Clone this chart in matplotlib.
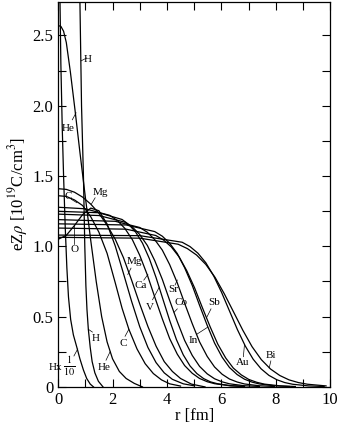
# charge distributions of nuclei, eZ*rho vs r
import matplotlib
matplotlib.use("Agg")
import matplotlib.pyplot as plt
from matplotlib.ticker import MultipleLocator

plt.rcParams['font.family'] = ['Liberation Serif', 'DejaVu Serif']
plt.rcParams['mathtext.fontset'] = 'stix'

# values (r in fm, eZrho in 1e19 C/cm^3)
r_hx = [0.05, 0.10, 0.15, 0.20, 0.26, 0.32, 0.38, 0.46, 0.56, 0.69, 0.80, 0.93, 1.05, 1.18, 1.30]
rho_hx = [3.0, 2.3, 1.85, 1.5, 1.14, 0.85, 0.64, 0.48, 0.37, 0.28, 0.20, 0.12, 0.06, 0.02, 0.0]

r_h = [0.78, 0.86, 0.93, 0.98, 1.02, 1.06, 1.11, 1.18, 1.25, 1.35, 1.48, 1.65]
rho_h = [3.0, 2.0, 1.5, 1.0, 0.72, 0.55, 0.41, 0.28, 0.18, 0.10, 0.04, 0.0]

r_he = [0.0, 0.1, 0.2, 0.3, 0.45, 0.62, 0.8, 1.0, 1.2, 1.4, 1.6, 1.8, 2.0, 2.25, 2.5, 2.8, 3.1]
rho_he = [2.57, 2.565, 2.53, 2.45, 2.24, 1.97, 1.67, 1.35, 1.04, 0.75, 0.50, 0.32, 0.20, 0.11, 0.06, 0.025, 0.0]

r_c = [0.0, 0.3, 0.6, 0.9, 1.2, 1.5, 1.8, 2.1, 2.35, 2.6, 2.9, 3.2, 3.5, 3.8, 4.1, 4.5]
rho_c = [1.36, 1.355, 1.33, 1.29, 1.21, 1.10, 0.95, 0.74, 0.56, 0.41, 0.27, 0.165, 0.095, 0.05, 0.022, 0.006]

r_o = [0.0, 0.3, 0.6, 0.9, 1.2, 1.5, 1.8, 2.1, 2.4, 2.7, 3.0, 3.3, 3.6, 3.9, 4.2, 4.6, 5.0]
rho_o = [1.05, 1.078, 1.148, 1.226, 1.272, 1.253, 1.159, 1.002, 0.808, 0.609, 0.428, 0.281, 0.173, 0.100, 0.054, 0.022, 0.008]

r_mg = [0.0, 0.3, 0.6, 0.9, 1.2, 1.5, 1.8, 2.1, 2.4, 2.7, 3.0, 3.3, 3.6, 3.9, 4.2, 4.5, 4.9, 5.4]
rho_mg = [1.41, 1.405, 1.385, 1.35, 1.30, 1.235, 1.15, 1.05, 0.92, 0.76, 0.59, 0.43, 0.29, 0.18, 0.11, 0.06, 0.02, 0.0]

r_ca = [0.0, 1.0, 1.90, 2.18, 2.45, 2.73, 3.00, 3.28, 3.55, 3.83, 4.10, 4.38, 4.65, 4.93, 5.20, 5.48, 5.75, 6.30, 6.85]
rho_ca = [1.278, 1.267, 1.220, 1.183, 1.128, 1.047, 0.936, 0.796, 0.640, 0.484, 0.344, 0.233, 0.152, 0.097, 0.060, 0.037, 0.023, 0.0086, 0.0032]

r_v = [0.0, 1.5, 2.35, 2.60, 2.85, 3.10, 3.35, 3.60, 3.85, 4.10, 4.35, 4.60, 4.85, 5.10, 5.35, 5.60, 5.85, 6.35, 6.85]
rho_v = [1.249, 1.239, 1.191, 1.155, 1.101, 1.023, 0.914, 0.778, 0.625, 0.473, 0.336, 0.228, 0.149, 0.095, 0.059, 0.036, 0.023, 0.0084, 0.0031]

r_co = [0.0, 1.5, 2.45, 2.73, 3.00, 3.28, 3.55, 3.83, 4.10, 4.38, 4.65, 4.93, 5.20, 5.48, 5.75, 6.03, 6.30, 6.85, 7.40]
rho_co = [1.229, 1.219, 1.172, 1.137, 1.084, 1.006, 0.899, 0.765, 0.615, 0.465, 0.331, 0.224, 0.146, 0.093, 0.058, 0.036, 0.022, 0.0082, 0.0031]

r_sr = [0.0, 2.1, 3.00, 3.28, 3.55, 3.83, 4.10, 4.38, 4.65, 4.93, 5.20, 5.48, 5.75, 6.03, 6.30, 6.58, 6.85, 7.40, 7.95]
rho_sr = [1.19, 1.178, 1.134, 1.100, 1.048, 0.973, 0.870, 0.740, 0.595, 0.450, 0.320, 0.217, 0.142, 0.090, 0.056, 0.035, 0.021, 0.008, 0.003]

r_in = [0.0, 2.5, 3.55, 3.83, 4.10, 4.38, 4.65, 4.93, 5.20, 5.48, 5.75, 6.03, 6.30, 6.58, 6.85, 7.13, 7.40, 7.95, 8.50]
rho_in = [1.16, 1.152, 1.105, 1.072, 1.022, 0.949, 0.848, 0.722, 0.580, 0.438, 0.312, 0.211, 0.138, 0.088, 0.055, 0.034, 0.021, 0.0078, 0.0029]

r_sb = [0.0, 2.5, 3.59, 3.88, 4.16, 4.45, 4.73, 5.02, 5.30, 5.59, 5.87, 6.16, 6.44, 6.73, 7.01, 7.30, 7.58, 8.15, 8.72]
rho_sb = [1.13, 1.122, 1.077, 1.044, 0.996, 0.924, 0.826, 0.703, 0.565, 0.427, 0.304, 0.206, 0.134, 0.086, 0.053, 0.033, 0.020, 0.0076, 0.0028]

r_au = [0.0, 3.0, 4.56, 4.85, 5.14, 5.43, 5.72, 6.01, 6.30, 6.59, 6.88, 7.17, 7.46, 7.75, 8.04, 8.33, 8.62, 9.20, 9.78]
rho_au = [1.08, 1.076, 1.029, 0.998, 0.951, 0.883, 0.789, 0.672, 0.540, 0.408, 0.291, 0.197, 0.129, 0.082, 0.051, 0.031, 0.019, 0.0072, 0.0027]

r_bi = [0.0, 3.0, 4.41, 4.75, 5.09, 5.43, 5.77, 6.11, 6.45, 6.79, 7.13, 7.47, 7.81, 8.15, 8.49, 8.83, 9.17, 9.85]
rho_bi = [1.064, 1.058, 1.015, 0.984, 0.938, 0.871, 0.779, 0.662, 0.533, 0.403, 0.286, 0.194, 0.127, 0.081, 0.050, 0.031, 0.019, 0.0071]

curves = [(r_hx, rho_hx), (r_h, rho_h), (r_he, rho_he), (r_c, rho_c), (r_o, rho_o),
          (r_mg, rho_mg), (r_ca, rho_ca), (r_v, rho_v), (r_co, rho_co), (r_sr, rho_sr),
          (r_in, rho_in), (r_sb, rho_sb), (r_au, rho_au), (r_bi, rho_bi)]

# curve labels: text, label position, leader line start -> end
labels = [
    ("H", (1.1, 2.33), (0.85, 2.32), (1.05, 2.34)),
    ("He", (0.36, 1.84), (0.52, 1.90), (0.66, 1.95)),
    ("C", (0.36, 1.355), (0.48, 1.335), (0.69, 1.31)),
    ("Mg", (1.55, 1.385), (1.36, 1.345), (1.22, 1.30)),
    ("O", (0.6, 0.975), (0.6, 1.02), (0.6, 1.15)),
    ("Mg", (2.82, 0.895), (2.68, 0.845), (2.56, 0.80)),
    ("Ca", (3.05, 0.72), (3.15, 0.76), (3.3, 0.80)),
    ("V", (3.38, 0.565), (3.47, 0.62), (3.72, 0.71)),
    ("Sr", (4.25, 0.69), (4.3, 0.725), (4.38, 0.76)),
    ("Co", (4.52, 0.60), (4.38, 0.555), (4.26, 0.53)),
    ("Sb", (5.72, 0.60), (5.62, 0.555), (5.45, 0.49)),
    ("In", (4.97, 0.33), (5.1, 0.375), (5.5, 0.425)),
    ("Au", (6.79, 0.176), (6.81, 0.215), (6.85, 0.30)),
    ("Bi", (7.83, 0.22), (7.82, 0.185), (7.76, 0.135)),
    ("H", (1.37, 0.345), (1.26, 0.39), (1.11, 0.41)),
    ("C", (2.4, 0.31), (2.46, 0.36), (2.6, 0.41)),
    ("He", (1.7, 0.14), (1.76, 0.19), (1.91, 0.25)),
]

fig = plt.figure(figsize=(3.4, 4.28), dpi=100)
ax = fig.add_axes([0.171, 0.096, 0.8, 0.9])

for r, rho in curves:
    ax.plot(r, rho, color='black', lw=0.9)

for txt, pos, p1, p2 in labels:
    ax.text(pos[0], pos[1], txt, fontsize=8, ha='center', va='center')
    ax.plot([p1[0], p2[0]], [p1[1], p2[1]], color='black', lw=0.5)

# H x 1/10 label
ax.text(0.17, 0.14, "Hx", fontsize=8, ha='right', va='center', clip_on=False)
ax.text(0.42, 0.15, r"$\frac{1}{10}$", fontsize=10.5, ha='center', va='center')
ax.plot([0.58, 0.72], [0.22, 0.27], color='black', lw=0.5)

ax.set_xlim(0, 10)
ax.set_ylim(0, 2.74)
ax.xaxis.set_major_locator(MultipleLocator(2))
ax.xaxis.set_minor_locator(MultipleLocator(1))
ax.yaxis.set_major_locator(MultipleLocator(0.5))
ax.yaxis.set_minor_locator(MultipleLocator(0.25))
ax.set_yticks([0, 0.5, 1.0, 1.5, 2.0, 2.5])
ax.set_yticklabels(['0', '0.5', '1.0', '1.5', '2.0', '2.5'])
ax.tick_params(which='both', direction='in', top=True, right=True,
               length=6, width=0.8, labelsize=12)
ax.set_xlabel("r [fm]", fontsize=12, labelpad=0)
ax.set_ylabel(r"eZ$\rho$ [10$^{19}$C/cm$^3$]", fontsize=12, labelpad=2)
for s in ax.spines.values():
    s.set_linewidth(0.9)

fig.savefig("out.png", dpi=100)
